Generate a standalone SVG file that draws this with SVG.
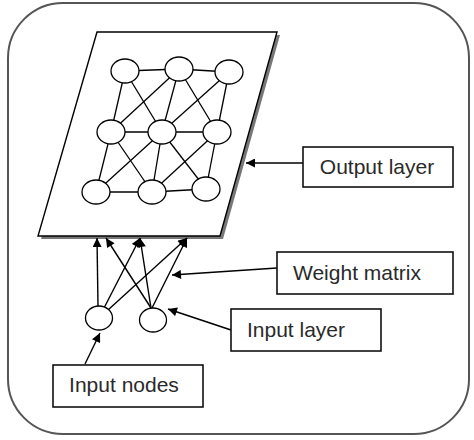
<svg xmlns="http://www.w3.org/2000/svg" width="474" height="440" viewBox="0 0 474 440">
<defs>
<marker id="ah" viewBox="0 0 10 10" refX="10" refY="5" markerWidth="10" markerHeight="9" markerUnits="userSpaceOnUse" orient="auto">
<path d="M0,0 L10,5 L0,10 z" fill="#000"/>
</marker>
<style>
.n{fill:#fff;stroke:#000;stroke-width:1.3}
.e{stroke:#000;stroke-width:1.3;fill:none}
.box{fill:#fff;stroke:#111;stroke-width:1.6}
.lbl{font-family:"Liberation Sans",Arial,sans-serif;font-size:21px;fill:#2a2a2a;text-anchor:middle}
.c{stroke:#000;stroke-width:1.4;fill:none;marker-end:url(#ah)}
</style>
</defs>
<rect x="0" y="0" width="474" height="440" fill="#fff"/>
<rect id="frame" x="8" y="3" width="461" height="431" rx="55" ry="55" fill="none" stroke="#555" stroke-width="2"/>
<g id="output-plane">
<polygon points="100,35 280,35 223,239 41,239" fill="#777"/>
<polygon points="97,32 277,32 220,236 38,236" fill="#fff" stroke="#000" stroke-width="1.4"/>
</g>
<g id="grid-edges">
<line class="e" x1="125" y1="71" x2="179" y2="69"/>
<line class="e" x1="179" y1="69" x2="229" y2="72"/>
<line class="e" x1="111" y1="132" x2="162" y2="132"/>
<line class="e" x1="162" y1="132" x2="217" y2="132"/>
<line class="e" x1="96" y1="192" x2="152" y2="192"/>
<line class="e" x1="152" y1="192" x2="206" y2="189"/>
<line class="e" x1="125" y1="71" x2="111" y2="132"/>
<line class="e" x1="179" y1="69" x2="162" y2="132"/>
<line class="e" x1="229" y1="72" x2="217" y2="132"/>
<line class="e" x1="125" y1="71" x2="162" y2="132"/>
<line class="e" x1="179" y1="69" x2="111" y2="132"/>
<line class="e" x1="179" y1="69" x2="217" y2="132"/>
<line class="e" x1="229" y1="72" x2="162" y2="132"/>
<line class="e" x1="111" y1="132" x2="96" y2="192"/>
<line class="e" x1="162" y1="132" x2="152" y2="192"/>
<line class="e" x1="217" y1="132" x2="206" y2="189"/>
<line class="e" x1="111" y1="132" x2="152" y2="192"/>
<line class="e" x1="162" y1="132" x2="96" y2="192"/>
<line class="e" x1="162" y1="132" x2="206" y2="189"/>
<line class="e" x1="217" y1="132" x2="152" y2="192"/>
</g>
<g id="grid-nodes">
<ellipse class="n" cx="125" cy="71" rx="14" ry="12"/>
<ellipse class="n" cx="179" cy="69" rx="14" ry="12"/>
<ellipse class="n" cx="229" cy="72" rx="14" ry="12"/>
<ellipse class="n" cx="111" cy="132" rx="14" ry="12"/>
<ellipse class="n" cx="162" cy="132" rx="14" ry="12"/>
<ellipse class="n" cx="217" cy="132" rx="14" ry="12"/>
<ellipse class="n" cx="96" cy="192" rx="14" ry="12"/>
<ellipse class="n" cx="152" cy="192" rx="14" ry="12"/>
<ellipse class="n" cx="206" cy="189" rx="14" ry="12"/>
</g>
<g id="connectors">
<line class="c" x1="98" y1="306" x2="97" y2="238"/>
<line class="c" x1="104" y1="308" x2="140" y2="238"/>
<line class="c" x1="108" y1="310" x2="187" y2="238"/>
<line class="c" x1="151" y1="308" x2="106" y2="238"/>
<line class="c" x1="151" y1="308" x2="140" y2="238"/>
<line class="c" x1="152" y1="308" x2="187" y2="238"/>
<line class="c" x1="303" y1="163" x2="246" y2="163"/>
<line class="c" x1="277" y1="268" x2="172" y2="275"/>
<line class="c" x1="231" y1="330" x2="168" y2="309"/>
<line class="c" x1="85" y1="364" x2="100" y2="333"/>
</g>
<g id="input-node-1"><ellipse class="n" cx="99" cy="318" rx="13.5" ry="12"/></g>
<g id="input-node-2"><ellipse class="n" cx="153" cy="320" rx="13.5" ry="12"/></g>
<g id="output-layer-label">
<rect class="box" x="303" y="147" width="150" height="40"/>
<text class="lbl" x="377" y="174">Output layer</text>
</g>
<g id="weight-matrix-label">
<rect class="box" x="277" y="252" width="176" height="42"/>
<text class="lbl" x="357" y="280">Weight matrix</text>
</g>
<g id="input-layer-label">
<rect class="box" x="231" y="309" width="150" height="42"/>
<text class="lbl" x="296" y="337">Input layer</text>
</g>
<g id="input-nodes-label">
<rect class="box" x="53" y="365" width="150" height="42"/>
<text class="lbl" x="124" y="392">Input nodes</text>
</g>
</svg>
